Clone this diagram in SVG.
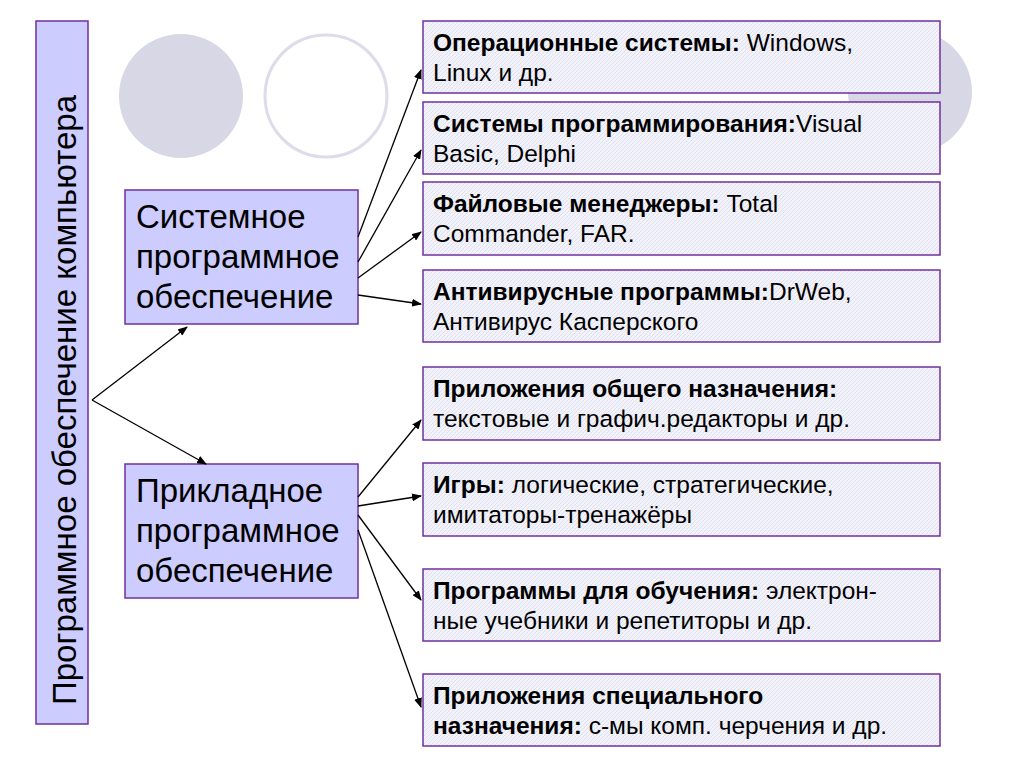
<svg xmlns="http://www.w3.org/2000/svg" width="1024" height="768" viewBox="0 0 1024 768">
<style>
.b{fill:#ccccff;stroke:#7030a0;stroke-width:1.5}
.r{fill:url(#h);stroke:#7030a0;stroke-width:1.5}
.t{font-family:"Liberation Sans",Arial,sans-serif;font-size:24.5px;fill:#000}
.m{font-family:"Liberation Sans",Arial,sans-serif;font-size:33px;fill:#000}
.c{stroke:#000;stroke-width:1.3;fill:none;marker-end:url(#a)}
</style>
<defs>
<pattern id="h" width="4" height="4" patternUnits="userSpaceOnUse"><rect width="4" height="4" fill="#f2f2fb"/><path d="M0 4L4 0" stroke="#e0e0ee" stroke-width="1"/></pattern>
<marker id="a" markerWidth="10" markerHeight="8" refX="9" refY="4" orient="auto" markerUnits="userSpaceOnUse"><path d="M0 0L10 4L0 8z" fill="#000"/></marker>
</defs>
<rect width="1024" height="768" fill="#fff"/>
<circle cx="181" cy="96" r="62" fill="#d7d7e6"/>
<circle cx="326" cy="96" r="61" fill="#fff" stroke="#dcdcea" stroke-width="3"/>
<circle cx="910" cy="92" r="62" fill="#d7d7e6"/>
<g id="root"><rect class="b" x="36" y="21" width="52" height="703"/>
<text class="m" transform="translate(76,400) rotate(-90)" text-anchor="middle">Программное обеспечение компьютера</text></g>
<g id="sys"><rect class="b" x="125" y="190" width="233" height="134"/>
<text class="m" x="136" y="228">Системное</text><text class="m" x="136" y="268">программное</text><text class="m" x="136" y="308">обеспечение</text></g>
<g id="app"><rect class="b" x="125" y="464" width="233" height="134"/>
<text class="m" x="136" y="502">Прикладное</text><text class="m" x="136" y="542">программное</text><text class="m" x="136" y="582">обеспечение</text></g>
<g id="n1"><rect class="r" x="423" y="21" width="517" height="72"/><text class="t" x="433" y="51"><tspan font-weight="bold">Операционные системы:</tspan> Windows,</text><text class="t" x="433" y="81">Linux и др.</text></g>
<g id="n2"><rect class="r" x="423" y="102" width="517" height="72"/><text class="t" x="433" y="132"><tspan font-weight="bold">Системы программирования:</tspan>Visual</text><text class="t" x="433" y="162">Basic, Delphi</text></g>
<g id="n3"><rect class="r" x="423" y="182" width="517" height="73"/><text class="t" x="433" y="212"><tspan font-weight="bold">Файловые менеджеры:</tspan> Total</text><text class="t" x="433" y="242">Commander, FAR.</text></g>
<g id="n4"><rect class="r" x="423" y="270" width="517" height="72"/><text class="t" x="433" y="300"><tspan font-weight="bold">Антивирусные программы:</tspan>DrWeb,</text><text class="t" x="433" y="330">Антивирус Касперского</text></g>
<g id="n5"><rect class="r" x="423" y="367" width="517" height="73"/><text class="t" x="433" y="397" font-weight="bold">Приложения общего назначения:</text><text class="t" x="433" y="427">текстовые и графич.редакторы и др.</text></g>
<g id="n6"><rect class="r" x="423" y="463" width="517" height="73"/><text class="t" x="433" y="493"><tspan font-weight="bold">Игры:</tspan> логические, стратегические,</text><text class="t" x="433" y="523">имитаторы-тренажёры</text></g>
<g id="n7"><rect class="r" x="423" y="569" width="517" height="72"/><text class="t" x="433" y="599"><tspan font-weight="bold">Программы для обучения:</tspan> электрон-</text><text class="t" x="433" y="629">ные учебники и репетиторы и др.</text></g>
<g id="n8"><rect class="r" x="423" y="674" width="517" height="72"/><text class="t" x="433" y="704" font-weight="bold">Приложения специального</text><text class="t" x="433" y="734"><tspan font-weight="bold">назначения:</tspan> с-мы комп. черчения и др.</text></g>
<g id="connectors">
<path class="c" d="M92 400L187 327"/>
<path class="c" d="M92 400L206 464"/>
<path class="c" d="M358 237L421 70"/>
<path class="c" d="M358 262L421 150"/>
<path class="c" d="M358 278L421 232"/>
<path class="c" d="M358 295L421 304"/>
<path class="c" d="M358 497L421 420"/>
<path class="c" d="M358 506L421 496"/>
<path class="c" d="M358 515L421 600"/>
<path class="c" d="M358 530L421 707"/>
</g>
</svg>
